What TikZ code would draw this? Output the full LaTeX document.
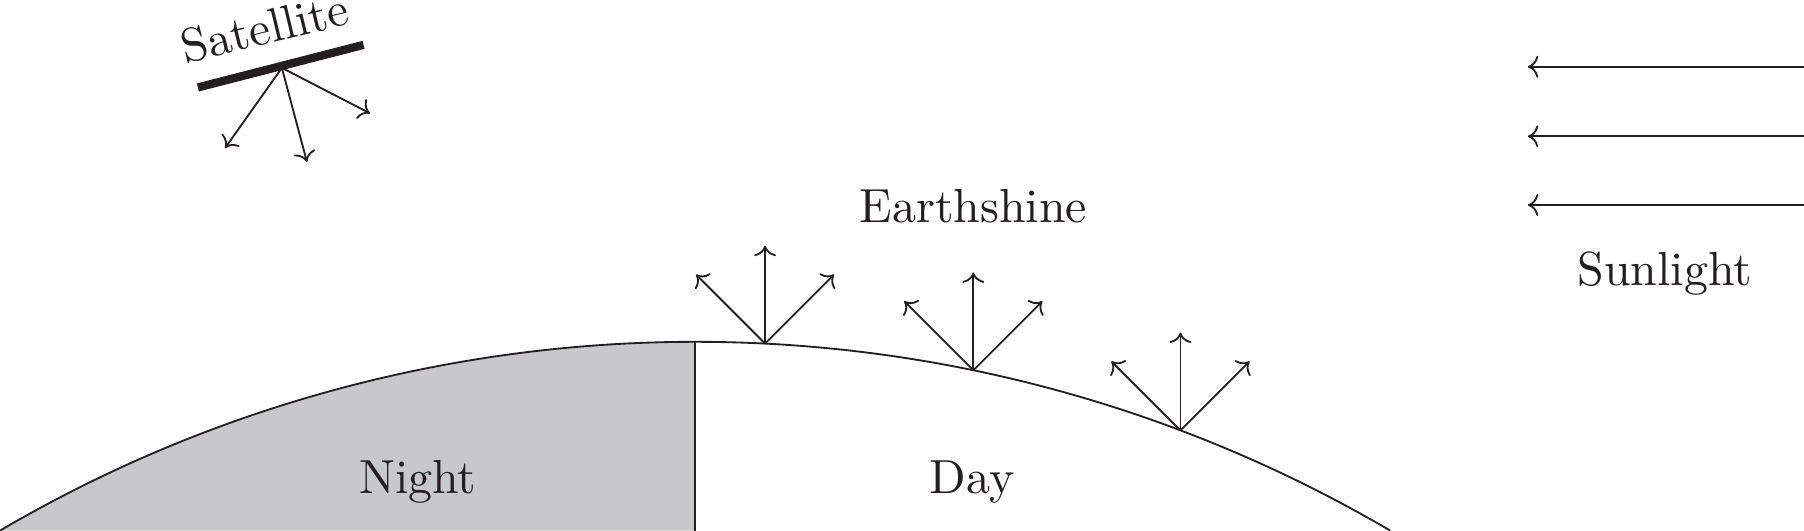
\documentclass[tikz,border=0pt]{standalone}
\usetikzlibrary{arrows.meta}
\definecolor{ink}{RGB}{35,31,32}
\definecolor{nightgray}{RGB}{199,200,202}
\tikzset{
  ray/.style={-{Computer Modern Rightarrow[scale=1.35]}, line width=0.8pt},
  lbl/.style={anchor=base, inner sep=0pt, scale=2.08, font=\fontsize{10}{12}\selectfont}
}
\begin{document}
\begin{tikzpicture}[x=0.5pt, y=-0.5pt, line width=0.8pt, color=ink]
\useasboundingbox (0,0) rectangle (1568,460.7);

% Earth: night side
\fill[nightgray] (0,461.2) arc[start angle=-120.4, end angle=-90, radius=1194] -- (604,461.2) -- cycle;
\draw (0,461.2) arc[start angle=-120.4, end angle=-59.6, radius=1194];
\coordinate (top) at (604,297);
\coordinate (bot) at (604,461.2);
\draw (top) -- (bot);

% Earthshine reflection points
\coordinate (e1) at (665,298.6);
\coordinate (e2) at (846,321.8);
\coordinate (e3) at (1026,374.1);
\foreach \p in {e1,e2,e3}{
  \draw[ray] (\p) -- ++(0,-85);
  \draw[ray] (\p) -- ++(-60,-60);
  \draw[ray] (\p) -- ++(60,-60);
}

% Sunlight
\foreach \y [count=\i] in {58,118.5,178.2}{
  \coordinate (sr\i) at (1568,\y);
  \coordinate (sl\i) at (1328,\y);
  \draw[ray] (sr\i) -- (sl\i);
}

% Satellite
\coordinate (b1) at (172,76);
\coordinate (b2) at (316,39);
\draw[line width=3.6pt] (b1) -- (b2);
\coordinate (s) at (245,59);
\coordinate (t1) at (195.6,128.7);
\coordinate (t2) at (266.8,140.8);
\coordinate (t3) at (321.6,98.5);
\draw[ray] (s) -- (t1);
\draw[ray] (s) -- (t2);
\draw[ray] (s) -- (t3);

% Labels
\node[lbl, rotate=13.5] (satlbl) at (233,38) {Satellite};
\node[lbl] (earthshine) at (846,193) {Earthshine};
\node[lbl] (sunlight) at (1447,248) {Sunlight};
\node[lbl] (night) at (363,429) {Night};
\node[lbl] (day) at (845,429) {Day};
\end{tikzpicture}
\end{document}
